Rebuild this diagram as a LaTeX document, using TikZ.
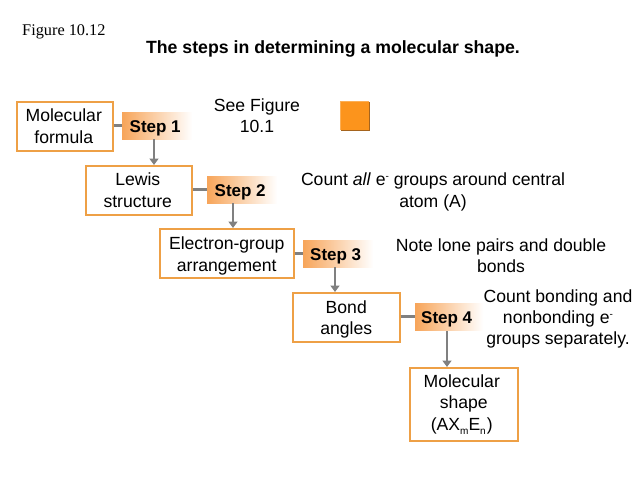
\documentclass[tikz,border=0pt]{standalone}
\usepackage{fontspec}
\setmainfont{Liberation Sans}
\newfontfamily\serifcap{Liberation Serif}
\usetikzlibrary{arrows.meta}
\definecolor{boxor}{RGB}{238,160,70}
\definecolor{stepor}{RGB}{247,165,90}
\definecolor{linegr}{RGB}{128,128,128}
\definecolor{sqmain}{RGB}{252,148,28}
\definecolor{sqdark}{RGB}{165,100,30}
\definecolor{sqlight}{RGB}{252,175,85}
\tikzset{
  x=1pt,y=-1pt,
  box/.style={draw=boxor,line width=1.5pt,fill=white,anchor=north west,inner sep=0pt,align=center,font=\fontsize{17.6}{21.5}\selectfont},
  stepbox/.style={anchor=north west,inner sep=0pt,left color=stepor,right color=white,minimum height=27pt,text height=13pt,text depth=0pt,font=\bfseries\fontsize{17}{20}\selectfont},
  txt/.style={inner sep=0pt,align=center,font=\fontsize{17.6}{21.3}\selectfont},
  link/.style={draw=linegr,line width=2.8pt},
  arrow/.style={link,-{Triangle[length=6.5pt,width=9pt]}},
}
\newcommand{\supm}{\raisebox{6pt}{\fontsize{10}{10}\selectfont -}}
\newcommand{\subx}[1]{\raisebox{-4pt}{\fontsize{10}{10}\selectfont #1}}
\newcommand{\steptext}[2]{#1\kern#2pt\relax}
\begin{document}
\begin{tikzpicture}
\useasboundingbox (0,0) rectangle (638,479);
\fill[white] (0,0) rectangle (638,479);
\node[box,minimum width=96pt,minimum height=49pt] (b1) at (16,101) {Molecular\hspace*{2pt}\\formula\hspace*{2pt}};
\node[box,minimum width=106pt,minimum height=49pt] (b2) at (85,165) {Lewis\hspace*{2pt}\\structure\hspace*{2pt}};
\node[box,minimum width=134pt,minimum height=49pt] (b3) at (159,228) {\rule{0pt}{18pt}Electron-group\\arrangement};
\node[box,minimum width=107pt,minimum height=49pt] (b4) at (292,292) {\rule{0pt}{17pt}Bond\\angles};
\node[box,minimum width=108pt,minimum height=73pt] (b5) at (409,367) {Molecular\hspace*{4pt}\\shape\hspace*{4pt}\\(AX\subx{m}E\subx{n}\kern1pt)\hspace*{4pt}};
\node[stepbox,minimum width=70pt] (s1) at (122,112) {\steptext{Step 1}{4}};
\node[stepbox,minimum width=70pt] (s2) at (207,176) {\steptext{Step 2}{4}};
\node[stepbox,minimum width=70pt] (s3) at (303,240) {\steptext{Step 3}{5}};
\node[stepbox,minimum width=68pt] (s4) at (415,303) {\steptext{Step 4}{5}};
\draw[link] (b1.east |- s1.west) -- (s1.west);
\draw[link] (b2.east |- s2.west) -- (s2.west);
\draw[link] (b3.east |- s3.west) -- (s3.west);
\draw[link] (b4.east |- s4.west) -- (s4.west);
\coordinate (a1) at (154,139); \coordinate (a2) at (233,203); \coordinate (a3) at (335,267); \coordinate (a4) at (447,331);
\draw[arrow] (a1) -- (a1 |- b2.north);
\draw[arrow] (a2) -- (a2 |- b3.north);
\draw[arrow] (a3) -- (a3 |- b4.north);
\draw[arrow] (a4) -- (a4 |- b5.north);
\node[inner sep=0pt,anchor=west,font=\serifcap\fontsize{16.3}{18}\selectfont] (fig) at (22,32) {Figure 10.12};
\node[inner sep=0pt,font=\bfseries\fontsize{17.7}{20}\selectfont] (title) at (333,49) {The steps in determining a molecular shape.};
\node[txt] (see) at (257,116) {See Figure\\10.1};
\node[txt] (t2) at (433,192) {Count \textit{all} e\supm{} groups around central\\atom (A)};
\node[txt] (t3) at (501,256) {Note lone pairs and double\\bonds};
\node[txt] (t4) at (558,319) {Count bonding and\\nonbonding e\supm\\groups separately.};
\fill[sqdark] (341,102) rectangle (370,131);
\fill[sqlight] (340,101) rectangle (368.5,129.5);
\fill[sqmain] (341,102) rectangle (368.5,129.5);
\end{tikzpicture}
\end{document}
